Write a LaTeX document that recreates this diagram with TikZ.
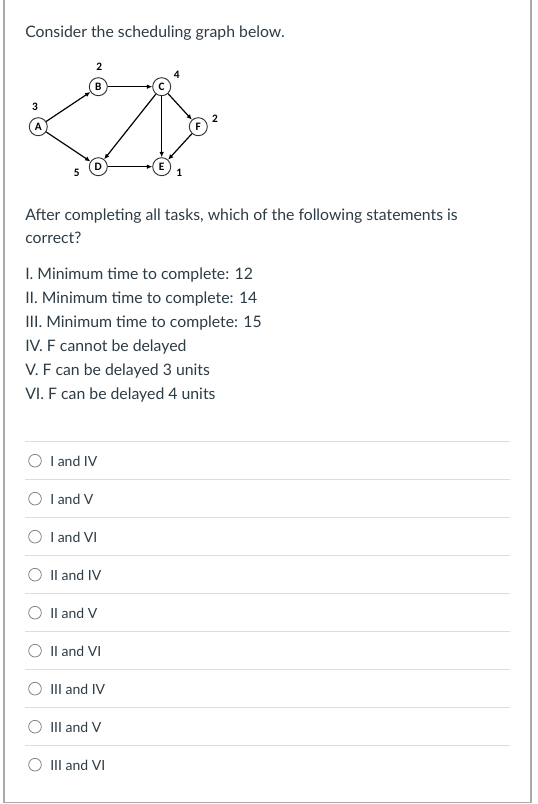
\documentclass[tikz,border=0pt]{standalone}
\usepackage{fontspec}
\setmainfont{Lato}
\newfontfamily\graphfont{Carlito}
\usetikzlibrary{arrows.meta}
\definecolor{textgray}{HTML}{2D3B45}
\definecolor{framegray}{HTML}{AAAAAA}
\definecolor{rulegray}{HTML}{DDDDDD}
\tikzset{
  task/.style={circle, draw=black!80, line width=0.7pt, minimum size=13.5pt, inner sep=0pt,
    font=\graphfont\bfseries\fontsize{8.5}{9}\selectfont},
  tasktime/.style={font=\graphfont\bfseries\fontsize{8.5}{9}\selectfont},
  edge/.style={-{Latex[length=4pt,width=3.5pt]}, line width=0.9pt},
  question/.style={anchor=base west, inner sep=0pt, text=textgray,
    font=\fontsize{11.85}{14}\selectfont},
  choice/.style={anchor=base west, inner sep=0pt, text=textgray,
    font=\fontsize{10.5}{12}\selectfont},
  radio/.style={circle, draw=gray, line width=0.6pt, minimum size=9.5pt, inner sep=0pt}
}
\begin{document}
\begin{tikzpicture}[x=0.75pt, y=-0.75pt]
  \useasboundingbox (0,0) rectangle (538,804);
  % frame
  \draw [framegray, line width=1pt] (4,0) -- (4,802.5) -- (531,802.5) -- (531,0);

  \node [question] (intro) at (25,37) {Consider the scheduling graph below.};

  % Drawing the scheduling graph
  \node [task] (A) at (38.3,126.7) {A};
  \node [task] (B) at (98.3,86.7) {B};
  \node [task] (C) at (161.7,86.7) {C};
  \node [task] (F) at (198.3,126.7) {F};
  \node [task] (D) at (98.3,166.7) {D};
  \node [task] (E) at (161.7,166.7) {E};

  % task times
  \node [tasktime] (tA) at (35,106.7) {3};
  \node [tasktime] (tB) at (99.3,66.7) {2};
  \node [tasktime] (tC) at (176.7,75) {4};
  \node [tasktime] (tF) at (215,118.3) {2};
  \node [tasktime] (tD) at (76.7,173.3) {5};
  \node [tasktime] (tE) at (179.3,173.3) {1};

  % precedence edges
  \draw [edge] (A) -- (B);
  \draw [edge] (A) -- (D);
  \draw [edge] (B) -- (C);
  \draw [edge] (C) -- (D);
  \draw [edge] (C) -- (E);
  \draw [edge] (C) -- (F);
  \draw [edge] (F) -- (E);
  \draw [edge] (D) -- (E);

  \node [question] (ask1) at (25,220) {After completing all tasks, which of the following statements is};
  \node [question] (ask2) at (25,243.5) {correct?};

  % statements
  \node [question] (s1) at (25,279) {I. Minimum time to complete: 12};
  \node [question] (s2) at (25,303) {II. Minimum time to complete: 14};
  \node [question] (s3) at (25,327) {III. Minimum time to complete: 15};
  \node [question] (s4) at (25,351) {IV. F cannot be delayed};
  \node [question] (s5) at (25,375) {V. F can be delayed 3 units};
  \node [question] (s6) at (25,399) {VI. F can be delayed 4 units};

  % answer choices
  \foreach \txt [count=\i from 0] in {I and IV, I and V, I and VI, II and IV, II and V,
      II and VI, III and IV, III and V, III and VI} {
    \draw [rulegray, line width=0.8pt] (25,441.5+38*\i) -- (509.5,441.5+38*\i);
    \node [radio] (r\i) at (35,460.7+38*\i) {};
    \node [choice] (c\i) at (50,466+38*\i) {\txt};
  }
\end{tikzpicture}
\end{document}
